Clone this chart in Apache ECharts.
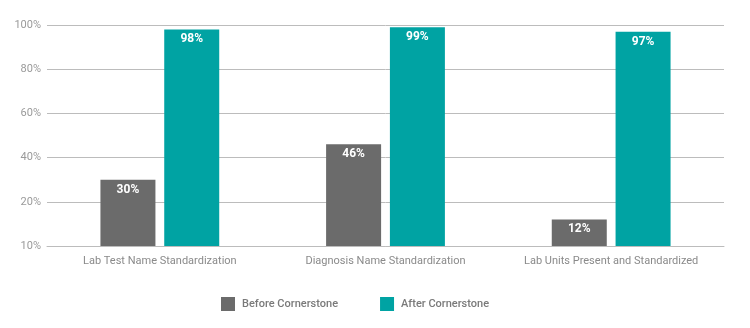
<!DOCTYPE html>
<html>
<head>
<meta charset="utf-8">
<script src="https://cdn.jsdelivr.net/npm/echarts@6/dist/echarts.min.js"></script>
<style>html,body{margin:0;padding:0;background:#fff}#c{width:750px;height:328px}</style>
</head>
<body>
<div id="c"></div>
<script>
const categories = ["Lab Test Name Standardization", "Diagnosis Name Standardization", "Lab Units Present and Standardized"];
const beforeValues = [30, 46, 12];
const afterValues = [98, 99, 97];
const seriesNames = ["Before Cornerstone", "After Cornerstone"];
const yTicks = [0, 20, 40, 60, 80, 100];
const yTickLabels = ["10%", "20%", "40%", "60%", "80%", "100%"];

const chart = echarts.init(document.getElementById('c'), null, {renderer: 'canvas'});
const font = 'Roboto, "Noto Sans", sans-serif';
const labelCfg = {
  show: true, position: 'insideTop', distance: 4,
  color: '#fff', fontWeight: 'bold', fontSize: 12, fontFamily: font,
  formatter: p => p.value + '%'
};
chart.setOption({
  animation: false,
  textStyle: {fontFamily: font},
  grid: {left: 47, right: 26, top: 25, bottom: 82},
  legend: {
    bottom: 17, left: 221, padding: 0,
    itemWidth: 14, itemHeight: 14, itemGap: 42,
    icon: 'rect',
    textStyle: {color: '#7a7a7a', fontSize: 11, fontWeight: 500, fontFamily: font, padding: [0, 0, 0, 2]},
    data: seriesNames
  },
  xAxis: {
    type: 'category', data: categories,
    axisLine: {show: true, lineStyle: {color: '#bcbcbc'}},
    axisTick: {show: false},
    axisLabel: {color: '#8a8a8a', fontSize: 11, margin: 10, interval: 0, fontFamily: font}
  },
  yAxis: {
    type: 'value', min: 0, max: 100, interval: 20,
    axisLine: {show: false}, axisTick: {show: false},
    splitLine: {lineStyle: {color: '#bcbcbc', width: 1}},
    axisLabel: {
      color: '#9a9a9a', fontSize: 11, margin: 6, fontFamily: font,
      formatter: v => { const i = yTicks.indexOf(v); return i >= 0 ? yTickLabels[i] : ''; }
    }
  },
  series: [
    {name: seriesNames[0], type: 'bar', data: beforeValues, barWidth: 55, barGap: '16%',
     itemStyle: {color: '#6b6b6b'}, label: labelCfg},
    {name: seriesNames[1], type: 'bar', data: afterValues, barWidth: 55,
     itemStyle: {color: '#00a3a3'}, label: labelCfg}
  ]
});
</script>
</body>
</html>
